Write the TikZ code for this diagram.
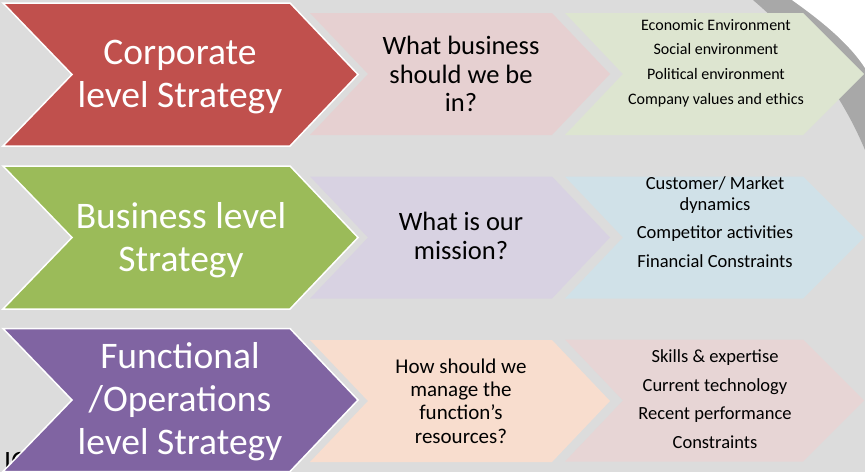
\documentclass[tikz,border=0pt]{standalone}
\usepackage{fontspec}
\setmainfont{Carlito}
\usepackage{tikz}

\definecolor{bggray}{RGB}{220,220,220}
\definecolor{cornershade}{RGB}{168,168,168}
\definecolor{corpred}{RGB}{192,80,77}
\definecolor{busgreen}{RGB}{155,187,89}
\definecolor{funcpurple}{RGB}{128,100,162}
\definecolor{qpink}{RGB}{230,208,209}
\definecolor{qlavender}{RGB}{216,210,226}
\definecolor{qpeach}{RGB}{248,221,206}
\definecolor{fgreen}{RGB}{221,229,208}
\definecolor{fblue}{RGB}{208,225,232}
\definecolor{fpink}{RGB}{231,213,213}

\begin{document}
\begin{tikzpicture}[x=1pt, y=-1pt,
        level/.style={draw=white, line width=1.5pt, line join=miter},
        title/.style={align=center, text=white, inner sep=0, font=\fontsize{37.5}{43}\selectfont},
        question/.style={align=center, inner sep=0, font=\fontsize{26.5}{28.5}\selectfont},
        factors/.style={align=center, inner sep=0, font=\fontsize{18.5}{28.6}\selectfont}]
        \useasboundingbox (0,0) rectangle (865,472);

        % background
        \fill[bggray] (0,0) rectangle (865,472);

        % slide corner
        \fill[cornershade] (753,0) .. controls (800,40) and (840,90) .. (865,150) -- (865,0) -- cycle;
        \fill[white] (792,0) .. controls (820,20) and (848,42) .. (865,68) -- (865,0) -- cycle;

        % footer text
        \node[anchor=base west, inner sep=0, font=\fontsize{28}{34}\selectfont] (footer) at (4,470) {IC};

        % factors
        \fill[fgreen] (565,13) -- (803,13) -- (864,74) -- (803,135) -- (565,135) -- (623,74) -- cycle;
        \fill[fblue] (565,176.5) -- (803,176.5) -- (864,237.5) -- (803,298.5) -- (565,298.5) -- (623,237.5) -- cycle;
        \fill[fpink] (565,339.5) -- (803,339.5) -- (864,400.5) -- (803,461.5) -- (565,461.5) -- (623,400.5) -- cycle;

        % questions
        \fill[qpink] (310,13) -- (552,13) -- (610,74) -- (552,135) -- (310,135) -- (368,74) -- cycle;
        \fill[qlavender] (310,176.5) -- (552,176.5) -- (610,237.5) -- (552,298.5) -- (310,298.5) -- (368,237.5) -- cycle;
        \fill[qpeach] (310,340) -- (552,340) -- (610,401) -- (552,462) -- (310,462) -- (368,401) -- cycle;

        % levels
        \filldraw[level, fill=corpred] (3,3) -- (290,3) -- (358,74.5) -- (290,146) -- (3,146) -- (72,74.5) -- cycle;
        \filldraw[level, fill=busgreen] (3,166) -- (290,166) -- (358,237.5) -- (290,309) -- (3,309) -- (72,237.5) -- cycle;
        \filldraw[level, fill=funcpurple] (3,328.5) -- (290,328.5) -- (358,400) -- (290,471.5) -- (3,471.5) -- (72,400) -- cycle;

        % labels
        \node[title] (corporate) at (180,77) {Corporate\\level Strategy};
        \node[title] (business) at (181,240) {Business level\\Strategy};
        \node[title] (functional) at (180,402) {Functional\\/Operations\\level Strategy};

        \node[question] (whatbusiness) at (461,74) {What business\\should we be\\in?};
        \node[question] (mission) at (461,236) {What is our\\mission?};
        \node[question, font=\fontsize{21}{23.3}\selectfont] (manage) at (461,401) {How should we\\manage the\\function’s\\resources?};

        \node[factors, font=\fontsize{16}{24.7}\selectfont] (environment) at (716,63) {Economic Environment\\Social environment\\Political environment\\Company values and ethics};
        \node[factors] (market) at (715,222) {Customer/ Market\\[-8pt]dynamics\\Competitor activities\\Financial Constraints};
        \node[factors] (resources) at (715,399) {Skills \& expertise\\Current technology\\Recent performance\\Constraints};
    \end{tikzpicture}
\end{document}
